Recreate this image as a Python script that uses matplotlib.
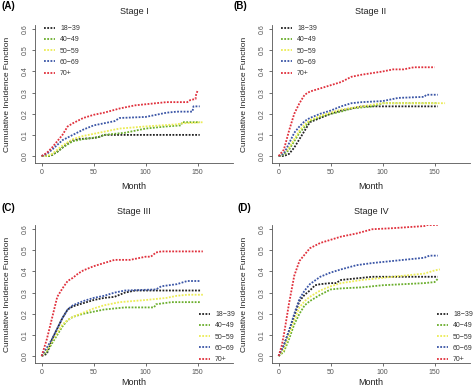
import numpy as np
import matplotlib
matplotlib.use('Agg')
import matplotlib.pyplot as plt

plt.rcParams['font.family'] = ['Liberation Sans', 'DejaVu Sans']

# Age groups, colours
groups = ['18\u221239', '40\u221249', '50\u221259', '60\u221269', '70+']
colors = ['#222222', '#6aae2c', '#ecec55', '#3a55a6', '#e0303c']
stages = ['Stage I', 'Stage II', 'Stage III', 'Stage IV']
panel_tags = ['(A)', '(B)', '(C)', '(D)']

# Stage I
a_m_1839 = [0, 8, 10, 15, 20, 25, 30, 35, 50, 55, 60, 152]
a_v_1839 = [0, 0, 0.005, 0.02, 0.04, 0.06, 0.075, 0.08, 0.085, 0.09, 0.1, 0.1]
a_m_4049 = [0, 8, 15, 20, 30, 40, 55, 60, 80, 100, 120, 134, 135, 152]
a_v_4049 = [0, 0, 0.02, 0.04, 0.07, 0.08, 0.09, 0.1, 0.11, 0.13, 0.14, 0.145, 0.16, 0.16]
a_m_5059 = [0, 5, 10, 20, 30, 40, 50, 60, 75, 100, 130, 135, 155]
a_v_5059 = [0, 0, 0.01, 0.05, 0.08, 0.095, 0.105, 0.115, 0.13, 0.14, 0.15, 0.155, 0.16]
a_m_6069 = [0, 5, 10, 20, 30, 40, 50, 60, 70, 75, 100, 110, 120, 130, 145, 146, 152]
a_v_6069 = [0, 0.01, 0.03, 0.075, 0.1, 0.125, 0.145, 0.155, 0.165, 0.18, 0.185, 0.195, 0.205, 0.21, 0.21, 0.235, 0.235]
a_m_70 = [0, 5, 10, 20, 25, 30, 40, 50, 60, 75, 90, 100, 110, 120, 140, 143, 148, 148.5, 150]
a_v_70 = [0, 0.015, 0.04, 0.1, 0.14, 0.155, 0.18, 0.195, 0.205, 0.225, 0.24, 0.245, 0.25, 0.255, 0.255, 0.265, 0.27, 0.29, 0.31]

# Stage II
b_m_1839 = [0, 5, 10, 15, 20, 25, 30, 40, 50, 60, 70, 80, 153]
b_v_1839 = [0, 0, 0.01, 0.04, 0.08, 0.12, 0.16, 0.18, 0.2, 0.215, 0.225, 0.235, 0.235]
b_m_4049 = [0, 5, 10, 15, 20, 30, 40, 50, 60, 70, 90, 100, 153]
b_v_4049 = [0, 0.005, 0.03, 0.07, 0.11, 0.165, 0.185, 0.2, 0.21, 0.225, 0.235, 0.25, 0.25]
b_m_5059 = [0, 5, 10, 15, 20, 25, 30, 40, 50, 60, 80, 100, 160]
b_v_5059 = [0, 0.01, 0.04, 0.08, 0.12, 0.15, 0.17, 0.19, 0.205, 0.22, 0.235, 0.25, 0.25]
b_m_6069 = [0, 5, 10, 15, 20, 25, 30, 40, 50, 60, 70, 80, 100, 115, 140, 142, 153]
b_v_6069 = [0, 0.01, 0.06, 0.11, 0.14, 0.165, 0.18, 0.2, 0.215, 0.235, 0.25, 0.255, 0.26, 0.275, 0.28, 0.29, 0.29]
b_m_70 = [0, 5, 10, 15, 20, 25, 30, 40, 50, 60, 70, 80, 100, 110, 120, 130, 150]
b_v_70 = [0, 0.03, 0.12, 0.2, 0.25, 0.29, 0.305, 0.32, 0.335, 0.35, 0.375, 0.385, 0.4, 0.41, 0.41, 0.42, 0.42]

# Stage III
c_m_1839 = [0, 5, 10, 20, 25, 30, 40, 50, 60, 70, 80, 90, 153]
c_v_1839 = [0, 0.01, 0.08, 0.18, 0.22, 0.235, 0.25, 0.265, 0.275, 0.28, 0.3, 0.31, 0.31]
c_m_4049 = [0, 5, 10, 15, 20, 25, 30, 40, 50, 60, 80, 108, 110, 125, 153]
c_v_4049 = [0, 0.02, 0.06, 0.1, 0.14, 0.17, 0.185, 0.2, 0.21, 0.22, 0.23, 0.23, 0.245, 0.255, 0.255]
c_m_5059 = [0, 5, 10, 15, 20, 25, 30, 40, 50, 60, 75, 100, 120, 130, 140, 155]
c_v_5059 = [0, 0.03, 0.07, 0.11, 0.15, 0.17, 0.185, 0.205, 0.225, 0.24, 0.255, 0.265, 0.275, 0.285, 0.29, 0.29]
c_m_6069 = [0, 5, 10, 15, 20, 25, 30, 40, 50, 60, 70, 80, 110, 115, 130, 140, 153]
c_v_6069 = [0, 0.04, 0.08, 0.13, 0.18, 0.22, 0.24, 0.26, 0.275, 0.285, 0.3, 0.31, 0.315, 0.33, 0.34, 0.355, 0.355]
c_m_70 = [0, 5, 10, 15, 20, 25, 30, 35, 40, 50, 60, 70, 85, 100, 105, 110, 115, 155]
c_v_70 = [0, 0.08, 0.18, 0.28, 0.32, 0.355, 0.37, 0.39, 0.405, 0.425, 0.44, 0.455, 0.455, 0.47, 0.47, 0.49, 0.495, 0.495]

# Stage IV
d_m_1839 = [0, 5, 10, 15, 20, 25, 30, 35, 40, 50, 55, 60, 80, 90, 153]
d_v_1839 = [0, 0.05, 0.12, 0.19, 0.26, 0.29, 0.31, 0.335, 0.34, 0.345, 0.345, 0.36, 0.37, 0.375, 0.375]
d_m_4049 = [0, 5, 10, 15, 20, 25, 30, 40, 50, 60, 80, 100, 120, 140, 150, 152, 153]
d_v_4049 = [0, 0.02, 0.08, 0.15, 0.2, 0.24, 0.26, 0.29, 0.315, 0.32, 0.325, 0.335, 0.34, 0.345, 0.35, 0.36, 0.365]
d_m_5059 = [0, 5, 10, 15, 20, 25, 30, 40, 50, 60, 80, 100, 120, 140, 150, 155]
d_v_5059 = [0, 0.03, 0.1, 0.17, 0.23, 0.26, 0.28, 0.31, 0.33, 0.345, 0.36, 0.37, 0.38, 0.39, 0.405, 0.41]
d_m_6069 = [0, 5, 10, 15, 20, 25, 30, 40, 50, 60, 75, 90, 100, 120, 140, 145, 153]
d_v_6069 = [0, 0.05, 0.12, 0.2, 0.27, 0.31, 0.34, 0.375, 0.395, 0.41, 0.43, 0.44, 0.445, 0.455, 0.465, 0.475, 0.475]
d_m_70 = [0, 3, 5, 10, 15, 20, 25, 30, 40, 50, 60, 75, 90, 110, 125, 140, 143, 153]
d_v_70 = [0, 0.05, 0.1, 0.25, 0.38, 0.45, 0.48, 0.51, 0.535, 0.55, 0.565, 0.58, 0.6, 0.605, 0.61, 0.615, 0.62, 0.62]

panels = [
    [(a_m_1839, a_v_1839), (a_m_4049, a_v_4049), (a_m_5059, a_v_5059), (a_m_6069, a_v_6069), (a_m_70, a_v_70)],
    [(b_m_1839, b_v_1839), (b_m_4049, b_v_4049), (b_m_5059, b_v_5059), (b_m_6069, b_v_6069), (b_m_70, b_v_70)],
    [(c_m_1839, c_v_1839), (c_m_4049, c_v_4049), (c_m_5059, c_v_5059), (c_m_6069, c_v_6069), (c_m_70, c_v_70)],
    [(d_m_1839, d_v_1839), (d_m_4049, d_v_4049), (d_m_5059, d_v_5059), (d_m_6069, d_v_6069), (d_m_70, d_v_70)],
]

W, H = 474, 387
fig = plt.figure(figsize=(W / 100, H / 100), dpi=100)

# axes boxes in pixels: left, top, width, height
boxes = [(35, 25, 198, 138), (272, 25, 198, 138), (35, 225, 198, 138), (272, 225, 198, 138)]
tag_pos = [(2, 6), (233, 6), (2, 208), (238, 208)]
# legend top-left (pixels)
leg_pos = [(44, 25), (281, 25), (199, 311), (437, 311)]
month_off = [19, 19, 15, 15]

gray = '#555555'
for i, series in enumerate(panels):
    l, t, w, h = boxes[i]
    ax = fig.add_axes([l / W, 1 - (t + h) / H, w / W, h / H])
    for (m, v), c, g in zip(series, colors, groups):
        ax.plot(m, v, color=c, lw=1.3, linestyle=(0, (1, 0.8)), label=g)
    ax.set_xlim(-6.4, 184)
    ax.set_ylim(-0.033, 0.62)
    ax.set_xticks([0, 50, 100, 150])
    ax.set_yticks(np.arange(0, 0.61, 0.1))
    ax.set_yticklabels(['%.1f' % y for y in np.arange(0, 0.61, 0.1)], rotation=90, va='center')
    ax.tick_params(labelsize=5, colors=gray, length=2.5, width=0.6, pad=2)
    for s in ['top', 'right']:
        ax.spines[s].set_visible(False)
    for s in ['left', 'bottom']:
        ax.spines[s].set_color(gray)
        ax.spines[s].set_linewidth(0.6)
    ax.set_xlabel('Month', fontsize=6.5, color='#222222')
    ax.xaxis.set_label_coords(0.5, -month_off[i] / 138)
    ax.set_ylabel('Cumulative Incidence Function', fontsize=6, color='#222222')
    ax.yaxis.set_label_coords(-24 / 198, 0.5)
    ax.text(0.5, 1 + 14 / 138, stages[i], transform=ax.transAxes, ha='center', va='center',
            fontsize=6.5, color='#222222')
    fig.text(tag_pos[i][0] / W, 1 - tag_pos[i][1] / H, panel_tags[i], fontsize=7, fontweight='bold',
             ha='left', va='center')
    lx, ly = leg_pos[i]
    ax.legend(loc='upper left', bbox_to_anchor=(lx / W, 1 - ly / H), bbox_transform=fig.transFigure,
              frameon=False, fontsize=5, handlelength=1.6, handletextpad=0.7, labelspacing=0.62,
              borderpad=0, borderaxespad=0, labelcolor='#333333')

fig.savefig('out.png', dpi=100)
